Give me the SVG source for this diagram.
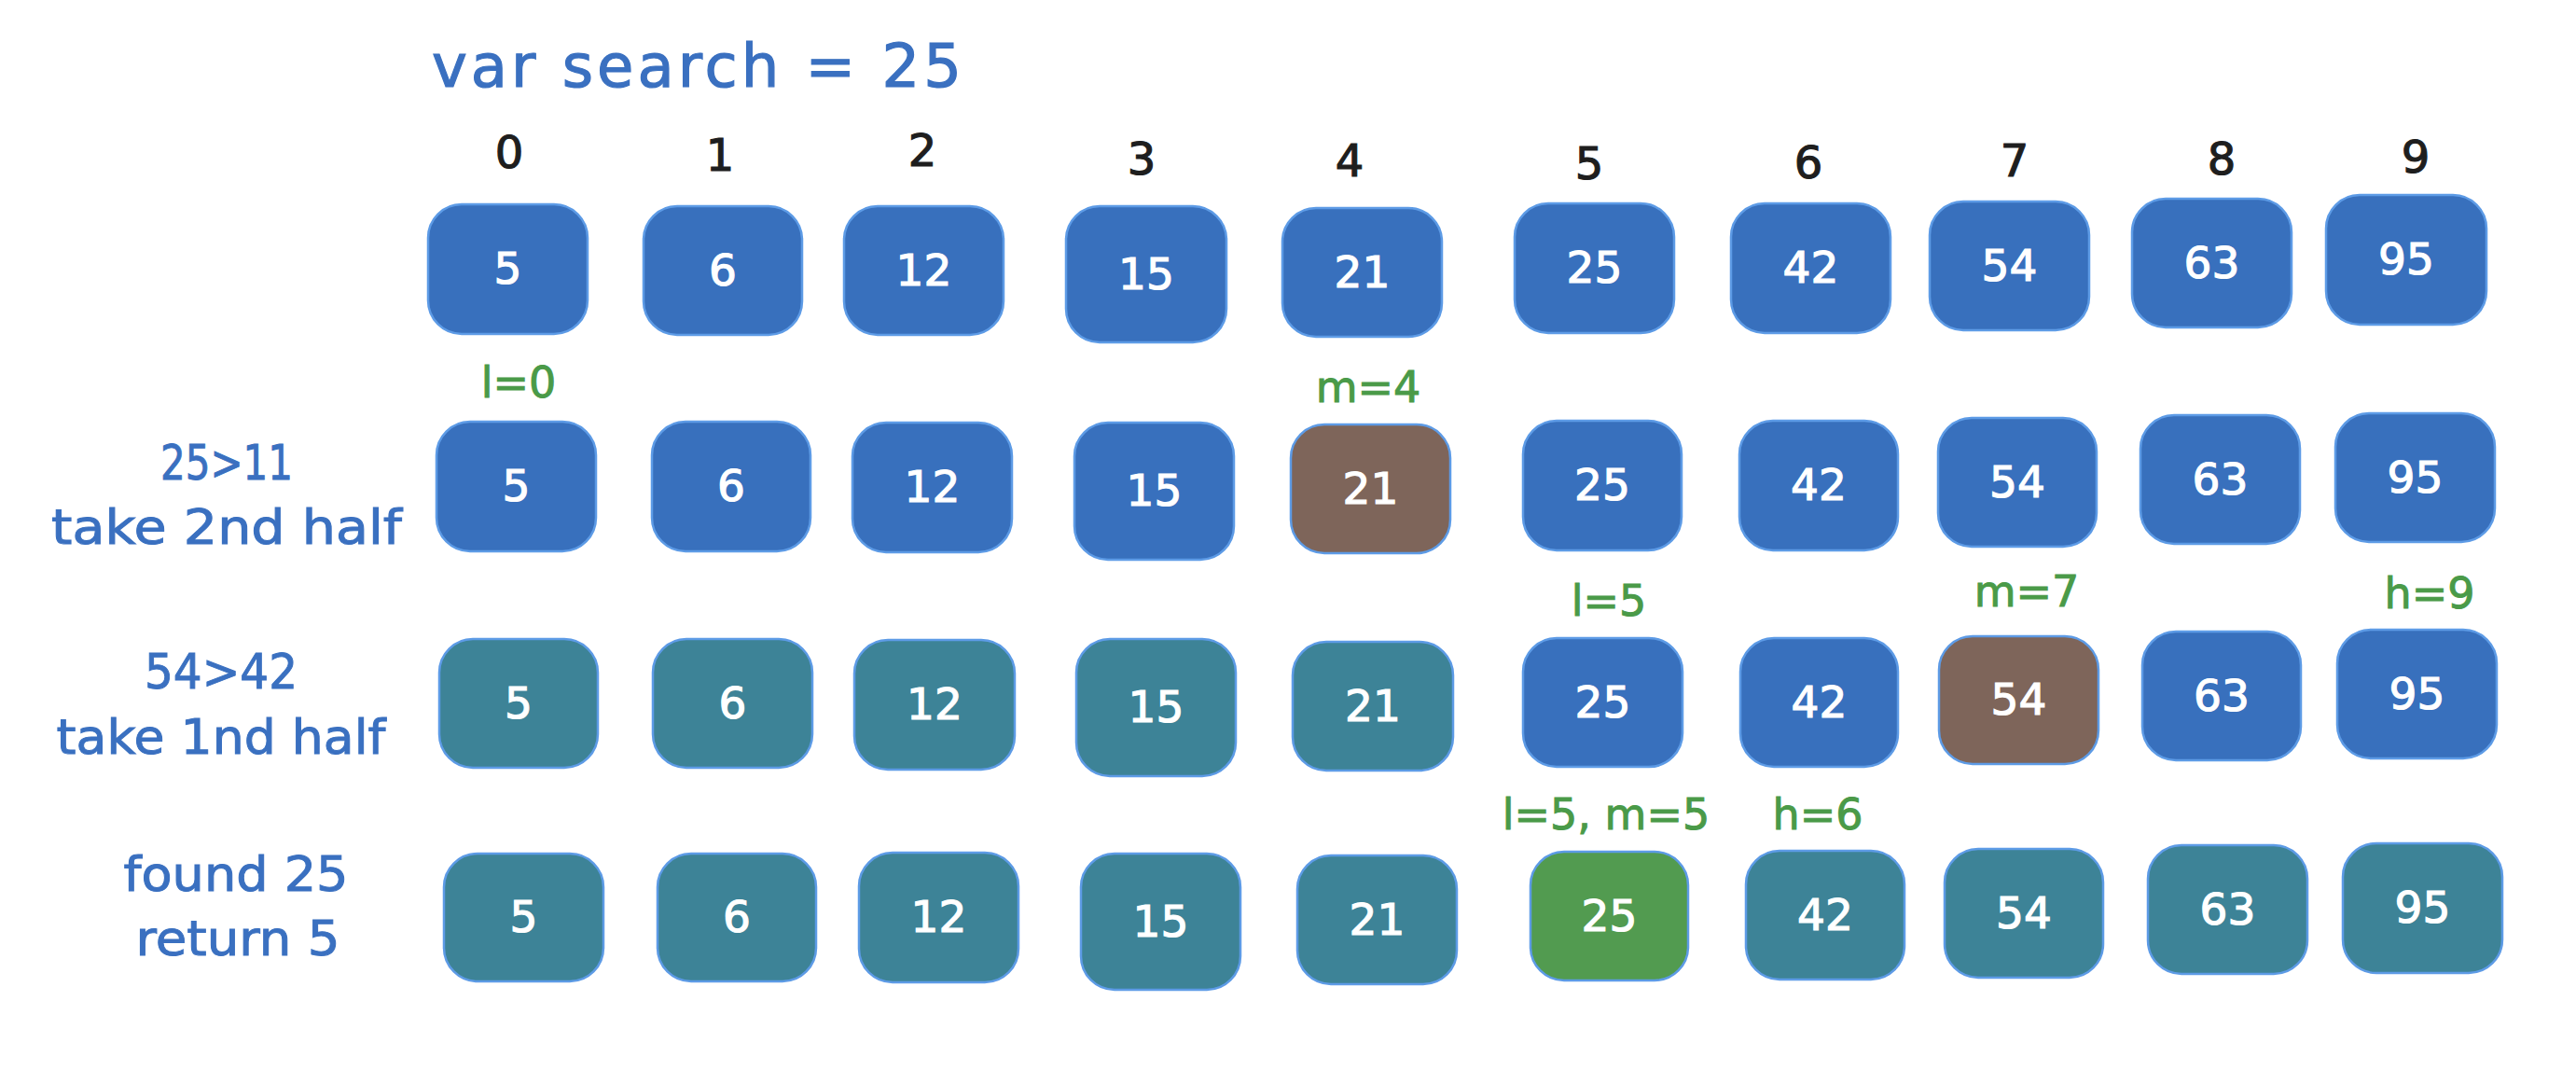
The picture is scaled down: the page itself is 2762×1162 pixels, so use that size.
<svg xmlns="http://www.w3.org/2000/svg" width="2762" height="1162" viewBox="0 0 2762 1162">
<style>
  rect.n { stroke: #5d9be6; stroke-width: 2.5; }
  .bl { fill: #3870bd; }
  .te { fill: #3d8397; }
  .br { fill: #7e655a; }
  .gr { fill: #529b50; }
  text { font-family: "DejaVu Sans", "Liberation Sans", sans-serif; }
  .v { fill: #ffffff; stroke: #ffffff; stroke-width: 1.2; font-size: 47px; text-anchor: middle; }
  .idx { fill: #1e1e1e; stroke: #1e1e1e; stroke-width: 1.2; font-size: 48px; text-anchor: middle; }
  .ptr { fill: #4a9a48; stroke: #4a9a48; stroke-width: 1; font-size: 46px; text-anchor: middle; }
  .note { fill: #3a70c0; stroke: #3a70c0; stroke-width: 1; font-size: 52px; text-anchor: middle; }
  .title { fill: #3a70c0; stroke: #3a70c0; stroke-width: 1.2; font-size: 64px; }
</style>
<rect width="2762" height="1162" fill="#ffffff"/>

<g id="title"><text class="title" x="463" y="93" textLength="568" lengthAdjust="spacing">var search = 25</text></g>

<g id="indices">
  <text class="idx" x="546" y="180">0</text>
  <text class="idx" x="772" y="183">1</text>
  <text class="idx" x="989" y="178">2</text>
  <text class="idx" x="1224" y="187">3</text>
  <text class="idx" x="1447" y="189">4</text>
  <text class="idx" x="1704" y="192">5</text>
  <text class="idx" x="1939" y="191">6</text>
  <text class="idx" x="2160" y="189">7</text>
  <text class="idx" x="2382" y="187">8</text>
  <text class="idx" x="2590" y="185">9</text>
</g>

<g id="notes">
  <text class="note" x="243" y="514" textLength="142" lengthAdjust="spacingAndGlyphs">25&gt;11</text>
  <text class="note" x="243" y="583" textLength="376" lengthAdjust="spacingAndGlyphs">take 2nd half</text>
  <text class="note" x="237" y="738" textLength="164" lengthAdjust="spacingAndGlyphs">54&gt;42</text>
  <text class="note" x="237" y="808" textLength="353" lengthAdjust="spacingAndGlyphs">take 1nd half</text>
  <text class="note" x="253" y="955" textLength="241" lengthAdjust="spacingAndGlyphs">found 25</text>
  <text class="note" x="255" y="1024" textLength="219" lengthAdjust="spacingAndGlyphs">return 5</text>
</g>

<g id="pointers">
  <text class="ptr" x="556" y="426">l=0</text>
  <text class="ptr" x="1467" y="431">m=4</text>
  <text class="ptr" x="1725" y="660">l=5</text>
  <text class="ptr" x="2173" y="650">m=7</text>
  <text class="ptr" x="2605" y="652">h=9</text>
  <text class="ptr" x="1722" y="889">l=5, m=5</text>
  <text class="ptr" x="1949" y="889">h=6</text>
</g>

<g id="row1">
  <g id="r1-0"><rect class="n bl" x="459" y="219" width="171" height="139" rx="36"/><text class="v" x="544.5" y="304">5</text></g>
  <g id="r1-1"><rect class="n bl" x="690" y="221" width="170" height="138" rx="36"/><text class="v" x="775" y="306">6</text></g>
  <g id="r1-2"><rect class="n bl" x="905" y="221" width="171" height="138" rx="36"/><text class="v" x="990.5" y="306">12</text></g>
  <g id="r1-3"><rect class="n bl" x="1143" y="221" width="172" height="146" rx="36"/><text class="v" x="1229" y="310">15</text></g>
  <g id="r1-4"><rect class="n bl" x="1375" y="223" width="171" height="138" rx="36"/><text class="v" x="1460.5" y="308">21</text></g>
  <g id="r1-5"><rect class="n bl" x="1624" y="218" width="171" height="139" rx="36"/><text class="v" x="1709.5" y="303">25</text></g>
  <g id="r1-6"><rect class="n bl" x="1856" y="218" width="171" height="139" rx="36"/><text class="v" x="1941.5" y="303">42</text></g>
  <g id="r1-7"><rect class="n bl" x="2069" y="216" width="171" height="138" rx="36"/><text class="v" x="2154.5" y="301">54</text></g>
  <g id="r1-8"><rect class="n bl" x="2286" y="213" width="171" height="138" rx="36"/><text class="v" x="2371.5" y="298">63</text></g>
  <g id="r1-9"><rect class="n bl" x="2494" y="209" width="172" height="139" rx="36"/><text class="v" x="2580" y="294">95</text></g>
</g>

<g id="row2">
  <g id="r2-0"><rect class="n bl" x="468" y="452" width="171" height="139" rx="36"/><text class="v" x="553.5" y="537">5</text></g>
  <g id="r2-1"><rect class="n bl" x="699" y="452" width="170" height="139" rx="36"/><text class="v" x="784" y="537">6</text></g>
  <g id="r2-2"><rect class="n bl" x="914" y="453" width="171" height="139" rx="36"/><text class="v" x="999.5" y="538">12</text></g>
  <g id="r2-3"><rect class="n bl" x="1152" y="453" width="171" height="147" rx="36"/><text class="v" x="1237.5" y="542">15</text></g>
  <g id="r2-4"><rect class="n br" x="1384" y="455" width="171" height="138" rx="36"/><text class="v" x="1469.5" y="540">21</text></g>
  <g id="r2-5"><rect class="n bl" x="1633" y="451" width="170" height="139" rx="36"/><text class="v" x="1718" y="536">25</text></g>
  <g id="r2-6"><rect class="n bl" x="1865" y="451" width="170" height="139" rx="36"/><text class="v" x="1950" y="536">42</text></g>
  <g id="r2-7"><rect class="n bl" x="2078" y="448" width="170" height="138" rx="36"/><text class="v" x="2163" y="533">54</text></g>
  <g id="r2-8"><rect class="n bl" x="2295" y="445" width="171" height="138" rx="36"/><text class="v" x="2380.5" y="530">63</text></g>
  <g id="r2-9"><rect class="n bl" x="2504" y="443" width="171" height="138" rx="36"/><text class="v" x="2589.5" y="528">95</text></g>
</g>

<g id="row3">
  <g id="r3-0"><rect class="n te" x="471" y="685" width="170" height="138" rx="36"/><text class="v" x="556" y="770">5</text></g>
  <g id="r3-1"><rect class="n te" x="700" y="685" width="171" height="138" rx="36"/><text class="v" x="785.5" y="770">6</text></g>
  <g id="r3-2"><rect class="n te" x="916" y="686" width="172" height="139" rx="36"/><text class="v" x="1002" y="771">12</text></g>
  <g id="r3-3"><rect class="n te" x="1154" y="685" width="171" height="147" rx="36"/><text class="v" x="1239.5" y="774">15</text></g>
  <g id="r3-4"><rect class="n te" x="1386" y="688" width="172" height="138" rx="36"/><text class="v" x="1472" y="773">21</text></g>
  <g id="r3-5"><rect class="n bl" x="1633" y="684" width="171" height="138" rx="36"/><text class="v" x="1718.5" y="769">25</text></g>
  <g id="r3-6"><rect class="n bl" x="1866" y="684" width="169" height="138" rx="36"/><text class="v" x="1950.5" y="769">42</text></g>
  <g id="r3-7"><rect class="n br" x="2079" y="682" width="171" height="137" rx="36"/><text class="v" x="2164.5" y="766">54</text></g>
  <g id="r3-8"><rect class="n bl" x="2297" y="677" width="170" height="138" rx="36"/><text class="v" x="2382" y="762">63</text></g>
  <g id="r3-9"><rect class="n bl" x="2506" y="675" width="171" height="138" rx="36"/><text class="v" x="2591.5" y="760">95</text></g>
</g>

<g id="row4">
  <g id="r4-0"><rect class="n te" x="476" y="915" width="171" height="137" rx="36"/><text class="v" x="561.5" y="999">5</text></g>
  <g id="r4-1"><rect class="n te" x="705" y="915" width="170" height="137" rx="36"/><text class="v" x="790" y="999">6</text></g>
  <g id="r4-2"><rect class="n te" x="921" y="914" width="171" height="139" rx="36"/><text class="v" x="1006.5" y="999">12</text></g>
  <g id="r4-3"><rect class="n te" x="1159" y="915" width="171" height="146" rx="36"/><text class="v" x="1244.5" y="1004">15</text></g>
  <g id="r4-4"><rect class="n te" x="1391" y="917" width="171" height="138" rx="36"/><text class="v" x="1476.5" y="1002">21</text></g>
  <g id="r4-5"><rect class="n gr" x="1641" y="913" width="169" height="138" rx="36"/><text class="v" x="1725.5" y="998">25</text></g>
  <g id="r4-6"><rect class="n te" x="1872" y="912" width="170" height="138" rx="36"/><text class="v" x="1957" y="997">42</text></g>
  <g id="r4-7"><rect class="n te" x="2085" y="910" width="170" height="138" rx="36"/><text class="v" x="2170" y="995">54</text></g>
  <g id="r4-8"><rect class="n te" x="2303" y="906" width="171" height="138" rx="36"/><text class="v" x="2388.5" y="991">63</text></g>
  <g id="r4-9"><rect class="n te" x="2512" y="904" width="171" height="139" rx="36"/><text class="v" x="2597.5" y="989">95</text></g>
</g>

<g id="connectors"></g>
</svg>
